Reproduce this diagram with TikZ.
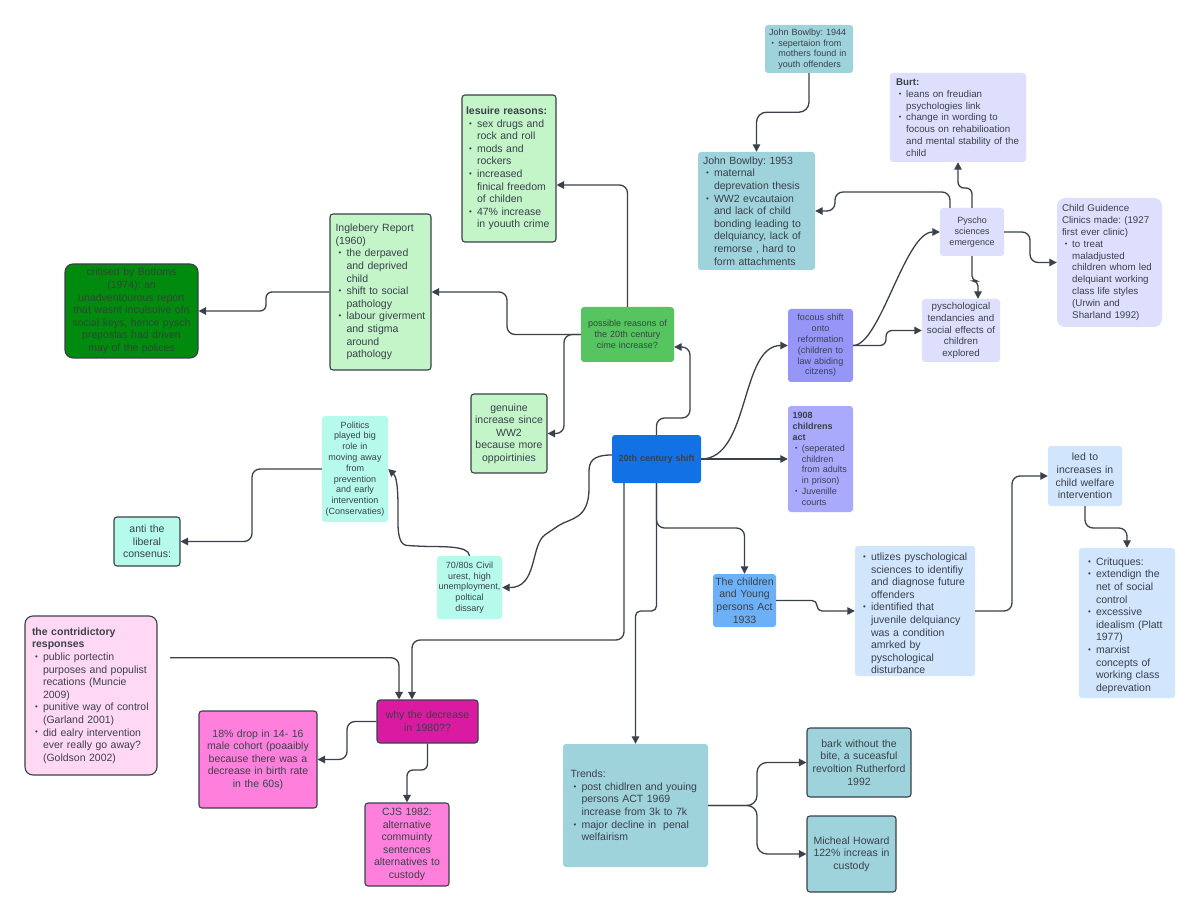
\documentclass[tikz,border=0pt]{standalone}
\usepackage{fontspec}
\setmainfont{Liberation Sans}
\usetikzlibrary{arrows.meta}
\frenchspacing
\definecolor{txt}{HTML}{3A414A}
\definecolor{tealf}{HTML}{9FD3DC}
\definecolor{lavf}{HTML}{DEDFFC}
\definecolor{lgreenf}{HTML}{C3F5C9}
\definecolor{dgreenf}{HTML}{008A0E}
\definecolor{mgreenf}{HTML}{56C55F}
\definecolor{aquaf}{HTML}{B5FAEB}
\definecolor{bluef}{HTML}{1272E5}
\definecolor{purpf}{HTML}{9696F9}
\definecolor{purptwof}{HTML}{AAAAFC}
\definecolor{mbluef}{HTML}{6CB1F8}
\definecolor{lbluef}{HTML}{D1E5FD}
\definecolor{lpinkf}{HTML}{FFD8F4}
\definecolor{magf}{HTML}{DA1AA0}
\definecolor{pinkf}{HTML}{FF80DC}
\definecolor{crittxt}{HTML}{2E4A32}
\newcommand\fbig{\fontsize{10.5}{12.6}\selectfont}
\newcommand\fsm{\fontsize{9}{10.8}\selectfont}
\newcommand\fmid{\fontsize{9.75}{11.8}\selectfont}
\newcommand\fxs{\fontsize{9}{10.5}\selectfont}
\newcommand\itm{\par\hangindent=1.05em\hangafter=1\noindent\makebox[1.05em][l]{\hspace{0.3em}\raisebox{0.1em}{\scalebox{0.75}{\textbullet}}}}
\newcommand\nl{\hfil\break}
\newcommand\bx[8]{\node[box,#6,minimum width=#4pt,minimum height=#5pt,text width=#7pt] (#1) at (#2,#3) {#8\par};}
\begin{document}
\begin{tikzpicture}[x=1pt,y=-1pt,
  box/.style={rectangle,rounded corners=3pt,inner sep=0pt,text=txt},
  bord/.style={draw=txt,line width=1.1pt},
  tealc/.style={fill=tealf},
  lavc/.style={fill=lavf},
  lgreenc/.style={fill=lgreenf},
  dgreenc/.style={fill=dgreenf},
  mgreenc/.style={fill=mgreenf},
  aquac/.style={fill=aquaf},
  bluec/.style={fill=bluef},
  purpc/.style={fill=purpf},
  purp2c/.style={fill=purptwof},
  mbluec/.style={fill=mbluef},
  lbluec/.style={fill=lbluef},
  lpinkc/.style={fill=lpinkf},
  magc/.style={fill=magf},
  pinkc/.style={fill=pinkf},
  conn/.style={draw=txt,line width=1.3pt,rounded corners=8pt,-{Triangle[length=7.5pt,width=7.5pt]}}]
\fill[white] (0,0) rectangle (1200,917);
\useasboundingbox (0,0) rectangle (1200,917);

\bx{b44}{809}{49}{88}{48}{tealc,font=\fxs,align=left}{80}{John Bowlby: 1944\itm sepertaion from\nl mothers found in\nl youth offenders}
\bx{b53}{756.5}{211}{117}{118}{tealc,font=\fbig,align=left}{107}{John Bowlby: 1953\itm maternal\nl deprevation thesis\itm WW2 evcautaion\nl and lack of child\nl bonding leading to\nl delquiancy, lack of\nl remorse , hard to\nl form attachments}
\bx{burt}{958}{117.5}{136}{89}{lavc,font=\fmid,align=left}{124}{\textbf{Burt:}\itm leans on freudian\nl psychologies link\itm change in wording to\nl focous on rehabilioation\nl and mental stability of the\nl child}
\bx{pyscho}{972}{232}{64}{48}{lavc,font=\fsm,align=center}{60}{Pyscho\\sciences\\emergence}
\bx{psyt}{961}{330.5}{78}{63}{lavc,font=\fmid,align=center}{76}{pyschological\\tendancies and\\social effects of\\children\\explored}
\bx{cgc}{1109.5}{262.5}{105}{129}{lavc,rounded corners=8pt,font=\fmid,align=left}{95}{Child Guidence\nl Clinics made: (1927\nl first ever clinic)\itm to treat\nl maladjusted\nl children whom led\nl delquiant working\nl class life styles\nl (Urwin and\nl Sharland 1992)}
\bx{leis}{509}{168.5}{94}{147}{lgreenc,bord,font=\fbig,align=left}{86}{\textbf{lesuire reasons:}\itm sex drugs and\nl rock and roll\itm mods and\nl rockers\itm increased\nl finical freedom\nl of childen\itm 47\% increase\nl in youuth crime}
\bx{ingl}{380.5}{292}{101}{156}{lgreenc,bord,font=\fbig,align=left}{90}{Inglebery Report\nl (1960)\itm the derpaved\nl and deprived\nl child\itm shift to social\nl pathology\itm labour giverment\nl and stigma\nl around\nl pathology}
\bx{crit}{131.5}{311}{133}{94}{dgreenc,bord,rounded corners=8pt,font=\fbig,align=center,text=crittxt}{127}{critised by Bottoms\\(1974): an\\unadventourous report\\that wasnt inculsuive ofn\\social keys, hence pysch\\preposlas had driven\\may of the polices}
\bx{poss}{627.5}{334.5}{93}{55}{mgreenc,font=\fsm,align=center}{90}{possible reasons of\\the 20th century\\cime increase?}
\bx{gen}{509}{433.5}{76}{79}{lgreenc,bord,font=\fbig,align=center}{74}{genuine\\increase since\\WW2\\because more\\oppoirtinies}
\bx{pol}{355}{469}{66}{106}{aquac,font=\fsm,align=center}{64}{Politics\\played big\\role in\\moving away\\from\\prevention\\and early\\intervention\\(Conservaties)}
\bx{anti}{147}{541.5}{66}{49}{aquac,bord,font=\fbig,align=center}{64}{anti the\\liberal\\consenus:}
\bx{civ}{469.5}{587.5}{65}{63}{aquac,font=\fsm,align=center}{64}{70/80s Civil\\urest, high\\unemployment,\\poltical\\dissary}
\bx{shift}{656.5}{459}{89}{48}{bluec,font=\fsm\bfseries,align=center}{86}{20th century shift}
\bx{focus}{820.5}{345.5}{65}{73}{purpc,font=\fsm,align=center}{63}{focous shift\\onto\\reformation\\(children to\\law abiding\\citzens)}
\bx{act08}{820.5}{459}{65}{106}{purp2c,font=\fsm,align=left}{56}{\textbf{1908}\nl\textbf{childrens}\nl\textbf{act}\itm (seperated\nl children\nl from adults\nl in prison)\itm Juvenille\nl courts}
\bx{cya}{744.5}{600.5}{63}{53}{mbluec,font=\fbig,align=center}{62}{The children\\and Young\\persons Act\\1933}
\bx{utl}{915}{611}{120}{130}{lbluec,font=\fbig,align=left}{110}{\itm utlizes pyschological\nl sciences to identifiy\nl and diagnose future\nl offenders\itm identified that\nl juvenile delquiancy\nl was a condition\nl amrked by\nl pyschological\nl disturbance}
\bx{led}{1085}{476}{74}{60}{lbluec,font=\fbig,align=center}{72}{led to\\increases in\\child welfare\\intervention}
\bx{crq}{1127}{623}{96}{150}{lbluec,font=\fbig,align=left}{84}{\itm Crituques:\itm extendign the\nl net of social\nl control\itm excessive\nl idealism (Platt\nl 1977)\itm marxist\nl concepts of\nl working class\nl deprevation}
\bx{con}{91}{695.5}{132}{159}{lpinkc,bord,rounded corners=8pt,font=\fbig,align=left}{118}{\textbf{the contridictory}\nl\textbf{responses}\itm public portectin\nl purposes and populist\nl recations (Muncie\nl 2009)\itm punitive way of control\nl (Garland 2001)\itm did ealry intervention\nl ever really go away?\nl (Goldson 2002)}
\bx{why}{427.5}{721.5}{101}{43}{magc,bord,font=\fbig,align=center}{98}{why the decrease\\in 1980??}
\bx{drop}{258}{759.5}{118}{97}{pinkc,bord,font=\fbig,align=center}{116}{18\% drop in 14- 16\\male cohort (poaaibly\\because there was a\\decrease in birth rate\\in the 60s)}
\bx{cjs}{407}{844.5}{84}{83}{pinkc,bord,font=\fbig,align=center}{82}{CJS 1982:\\alternative\\commuinty\\sentences\\alternatives to\\custody}
\bx{trends}{635.5}{805.5}{145}{123}{tealc,font=\fbig,align=left}{130}{Trends:\itm post chidlren and youing\nl persons ACT 1969\nl increase from 3k to 7k\itm major decline in\ \ penal\nl welfairism}
\bx{bark}{859}{762.5}{104}{69}{tealc,bord,font=\fbig,align=center}{102}{bark without the\\bite, a suceasful\\revoltion Rutherford\\1992}
\bx{how}{851.5}{854}{89}{76}{tealc,bord,font=\fbig,align=center}{87}{Micheal Howard\\122\% increas in\\custody}

% connectors
\draw[conn,rounded corners=10pt] (b44.south) -- ++(0,39) -| (b53.north);
\draw[conn] ([xshift=-22pt]pyscho.north) -- (950,192) -- (835,192) -- (835,211) -- (b53.east);
\draw[conn,rounded corners=6pt] (pyscho.north) -- (972,188) -| (burt.south);
\draw[conn] (pyscho.east) -- (1030,232) |- (cgc.west);
\draw[conn,rounded corners=5pt] (pyscho.south) -- (972,281) -| ([xshift=17pt]psyt.north);
\draw[conn] (focus.east) .. controls (880,345.5) and (905,232) .. (pyscho.west);
\draw[conn,rounded corners=6pt] (focus.east) -- (886,345.5) |- (psyt.west);
\draw[conn] (poss.north) |- (leis.east |- 0,185);
\draw[conn] (poss.west) -- (507,334.5) |- (ingl.east);
\draw[conn] (poss.west) -- (564,334.5) |- (gen.east);
\draw[conn,rounded corners=6pt] (ingl.west) -- (266,292) -- (266,311) -- (crit.east);
\draw[conn] (shift.north) -- (656.5,418) -- (690,418) -- (690,347) -- (poss.east |- 0,347);
\draw[conn] (shift.east) .. controls (750,459) and (740,345.5) .. (focus.west);
\draw[conn] (shift.east) -- (act08.west);
\draw[conn] ([yshift=4pt]shift.west) .. controls (592,455) and (589,462) .. (589,480) .. controls (589,520) and (570,518) .. (552,530) .. controls (530,545) and (538,588) .. (civ.east);
\draw[conn] (civ.north) .. controls (469,545) and (440,547) .. (415,546) .. controls (400,545) and (398,535) .. (398,515) .. controls (398,485) and (396,476) .. (pol.east);
\draw[conn] (pol.west) -- (252,469) |- (anti.east);
\draw[conn] ([xshift=-32.5pt]shift.south) -- (624,640) -| ([xshift=-15.5pt]why.north);
\coordinate (cstart) at (170,657.7);
\draw[conn] (cstart) -| ([xshift=-28.5pt]why.north);
\draw[conn] (shift.south) -- (656.5,528) -| (cya.north);
\draw[conn,rounded corners=5pt] (shift.south) -- (656.5,611) -- (635.5,611) -- (trends.north);
\draw[conn] (why.west) -- (347,721.5) |- (drop.east);
\draw[conn,rounded corners=6pt] (why.south) -- (427.5,770) -| (cjs.north);
\draw[conn,rounded corners=5pt] (cya.east) -- (817,600.5) |- (utl.west);
\draw[conn] (utl.east) -- (1012,611) |- (led.west);
\draw[conn] (led.south) -- (1085,528) -| (crq.north);
\draw[conn,rounded corners=10pt] (trends.east) -- (757,805.5) |- (bark.west);
\draw[conn,rounded corners=10pt] (trends.east) -- (757,805.5) |- (how.west);
\end{tikzpicture}
\end{document}
